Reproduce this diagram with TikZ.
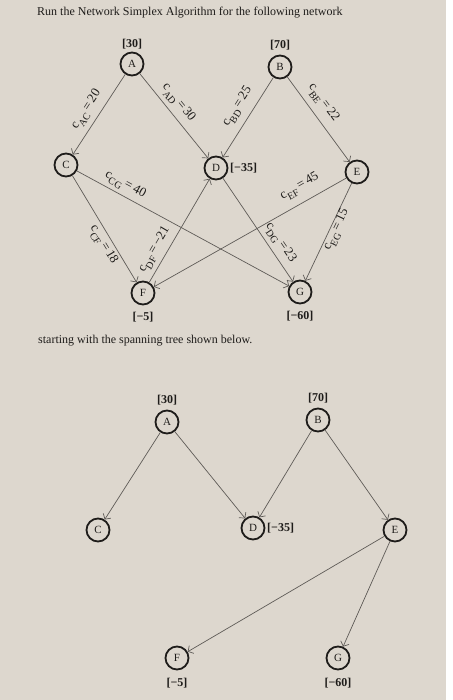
\documentclass[tikz,border=0pt]{standalone}
\usepackage{fontspec}
\setmainfont{Liberation Serif}
\usetikzlibrary{arrows.meta}
\definecolor{paper}{RGB}{221,215,206}
\definecolor{ink}{RGB}{30,28,26}
\definecolor{edgec}{RGB}{95,91,87}
\newcommand{\cst}[2]{c\raisebox{-4.5pt}{\fontsize{10}{12}\selectfont #1}\,=\,#2}
\begin{document}
\begin{tikzpicture}[x=1pt,y=1pt,
  vert/.style={circle,draw=ink,line width=1.8pt,minimum size=23pt,inner sep=0pt,font=\fontsize{11}{13}\selectfont,text=ink},
  supply/.style={font=\bfseries\fontsize{12}{14}\selectfont,text=ink,inner sep=0pt},
  arc/.style={draw=edgec,line width=0.7pt,-{Straight Barb[length=4pt,width=9pt]}},
  cost/.style={font=\fontsize{13}{15}\selectfont,text=ink,inner sep=0pt},
  txt/.style={font=\fontsize{12}{14}\selectfont,text=ink,anchor=west,inner sep=0pt}]
% background
\path[use as bounding box,fill=paper] (0,0) rectangle (452,-700);
\fill[white] (446,0) rectangle (452,-700);
% texts
\node[txt] (title) at (37,-13) {Run the Network Simplex Algorithm for the following network};
\node[txt] (start) at (38,-341) {starting with the spanning tree shown below.};
% top network
\node[vert] (A) at (132,-64) {A};
\node[vert] (B) at (280,-67) {B};
\node[vert] (C) at (66,-165) {C};
\node[vert] (D) at (216,-168) {D};
\node[vert] (E) at (357,-172) {E};
\node[vert] (F) at (143,-293) {F};
\node[vert] (G) at (300,-292) {G};
\node[supply] (sA) at (132,-44) {[30]};
\node[supply] (sB) at (280,-45) {[70]};
\node[supply,anchor=west] (sD) at (230,-168) {[−35]};
\node[supply] (sF) at (143,-317) {[−5]};
\node[supply] (sG) at (300,-316) {[−60]};
\draw[arc] (A) -- (C);
\draw[arc] (A) -- (D);
\draw[arc] (B) -- (D);
\draw[arc] (B) -- (E);
\draw[arc] (C) -- (F);
\draw[arc] (C) -- (G);
\draw[arc] (F) -- (D);
\draw[arc] (E) -- (F);
\draw[arc] (D) -- (G);
\draw[arc] (E) -- (G);
\node[cost,rotate=57] (lAC) at (87,-110) {\cst{AC}{20}};
\node[cost,rotate=-51] (lAD) at (178,-103) {\cst{AD}{30}};
\node[cost,rotate=57.6] (lBD) at (238,-107) {\cst{BD}{25}};
\node[cost,rotate=-53.7] (lBE) at (323,-103) {\cst{BE}{22}};
\node[cost,rotate=-28.5] (lCG) at (125,-185) {\cst{CG}{40}};
\node[cost,rotate=-59] (lCF) at (103,-245) {\cst{CF}{18}};
\node[cost,rotate=59.7] (lDF) at (155,-250) {\cst{DF}{−21}};
\node[cost,rotate=29.5] (lEF) at (300,-187) {\cst{EF}{45}};
\node[cost,rotate=-55.9] (lDG) at (280,-243) {\cst{DG}{23}};
\node[cost,rotate=64.6] (lEG) at (337,-230) {\cst{EG}{15}};
% spanning tree
\node[vert] (A2) at (167,-422) {A};
\node[vert] (B2) at (318,-420) {B};
\node[vert] (C2) at (98,-530) {C};
\node[vert] (D2) at (253,-528) {D};
\node[vert] (E2) at (395,-530) {E};
\node[vert] (F2) at (177,-658) {F};
\node[vert] (G2) at (338,-658) {G};
\node[supply] (tA) at (167,-400) {[30]};
\node[supply] (tB) at (318,-398) {[70]};
\node[supply,anchor=west] (tD) at (267,-528) {[−35]};
\node[supply] (tF) at (177,-683) {[−5]};
\node[supply] (tG) at (338,-683) {[−60]};
\draw[arc] (A2) -- (C2);
\draw[arc] (A2) -- (D2);
\draw[arc] (B2) -- (D2);
\draw[arc] (B2) -- (E2);
\draw[arc] (E2) -- (F2);
\draw[arc] (E2) -- (G2);
\end{tikzpicture}
\end{document}
